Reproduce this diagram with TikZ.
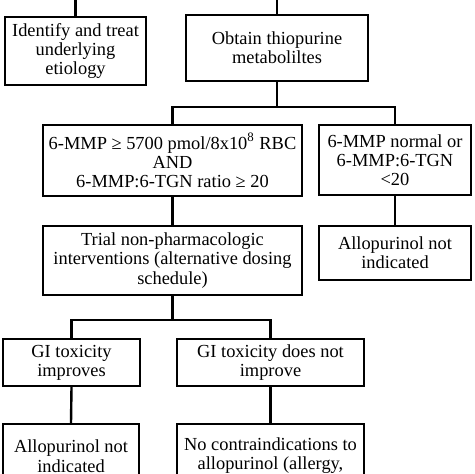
\documentclass[tikz,border=0pt]{standalone}
\usepackage{fontspec}
\setmainfont{Liberation Serif}
\begin{document}
\begin{tikzpicture}[x=0.5pt, y=-0.5pt, line width=1.2pt,
  box/.style={draw, fill=white, align=center, inner sep=1pt,
    font=\fontsize{9.2}{9.6}\selectfont}]
\useasboundingbox (0,0) rectangle (474,474);
% top row
\node[box, minimum width=70.5pt, minimum height=34pt] (ident) at (75.5,51)
  {Identify and treat\\underlying\\etiology};
\node[box, minimum width=91pt, minimum height=33pt] (obtain) at (277,48)
  {Obtain thiopurine\\metaboliltes};
\coordinate (identtop) at (75.5,-10);
\coordinate (obtaintop) at (277,-10);
\coordinate (split1) at (277,107);
% metabolite levels
\node[box, minimum width=129.5pt, minimum height=35.5pt] (mmphigh) at (172.5,160.5)
  {6-MMP ≥ 5700 pmol/8x10\textsuperscript{8} RBC\\AND\\6-MMP:6-TGN ratio ≥ 20};
\node[box, minimum width=76pt, minimum height=35pt] (mmpnorm) at (395,160)
  {6-MMP normal or\\6-MMP:6-TGN\\<20};
\node[box, minimum width=129.5pt, minimum height=34.5pt] (trial) at (172.5,260.5)
  {Trial non-pharmacologic\\interventions (alternative dosing\\schedule)};
\node[box, minimum width=76pt, minimum height=27pt] (allo1) at (395,253)
  {Allopurinol not\\indicated};
\coordinate (split2) at (172.5,320);
% response
\node[box, minimum width=68.5pt, minimum height=23.5pt] (giimp) at (71.5,362.5)
  {GI toxicity\\improves};
\node[box, minimum width=93.5pt, minimum height=23.5pt] (ginot) at (270.5,362.5)
  {GI toxicity does not\\improve};
\node[box, anchor=north, minimum width=68pt, minimum height=32pt] (allo2) at (71,423)
  {Allopurinol not\\indicated};
\node[box, anchor=north, minimum width=93.5pt, minimum height=39pt] (nocontra) at (270.5,423)
  {No contraindications to\\allopurinol (allergy,\\\mbox{}};
% connectors
\draw (identtop) -- (ident.north);
\draw (obtaintop) -- (obtain.north);
\draw (obtain.south) -- (split1);
\draw (mmphigh.north) |- (split1) -| (mmpnorm.north);
\draw (mmphigh.south) -- (trial.north);
\draw (mmpnorm.south) -- (allo1.north);
\draw (trial.south) -- (split2);
\draw (giimp.north) |- (split2) -| (ginot.north);
\draw (giimp.south) -- (allo2.north);
\draw (ginot.south) -- (nocontra.north);
\end{tikzpicture}
\end{document}
